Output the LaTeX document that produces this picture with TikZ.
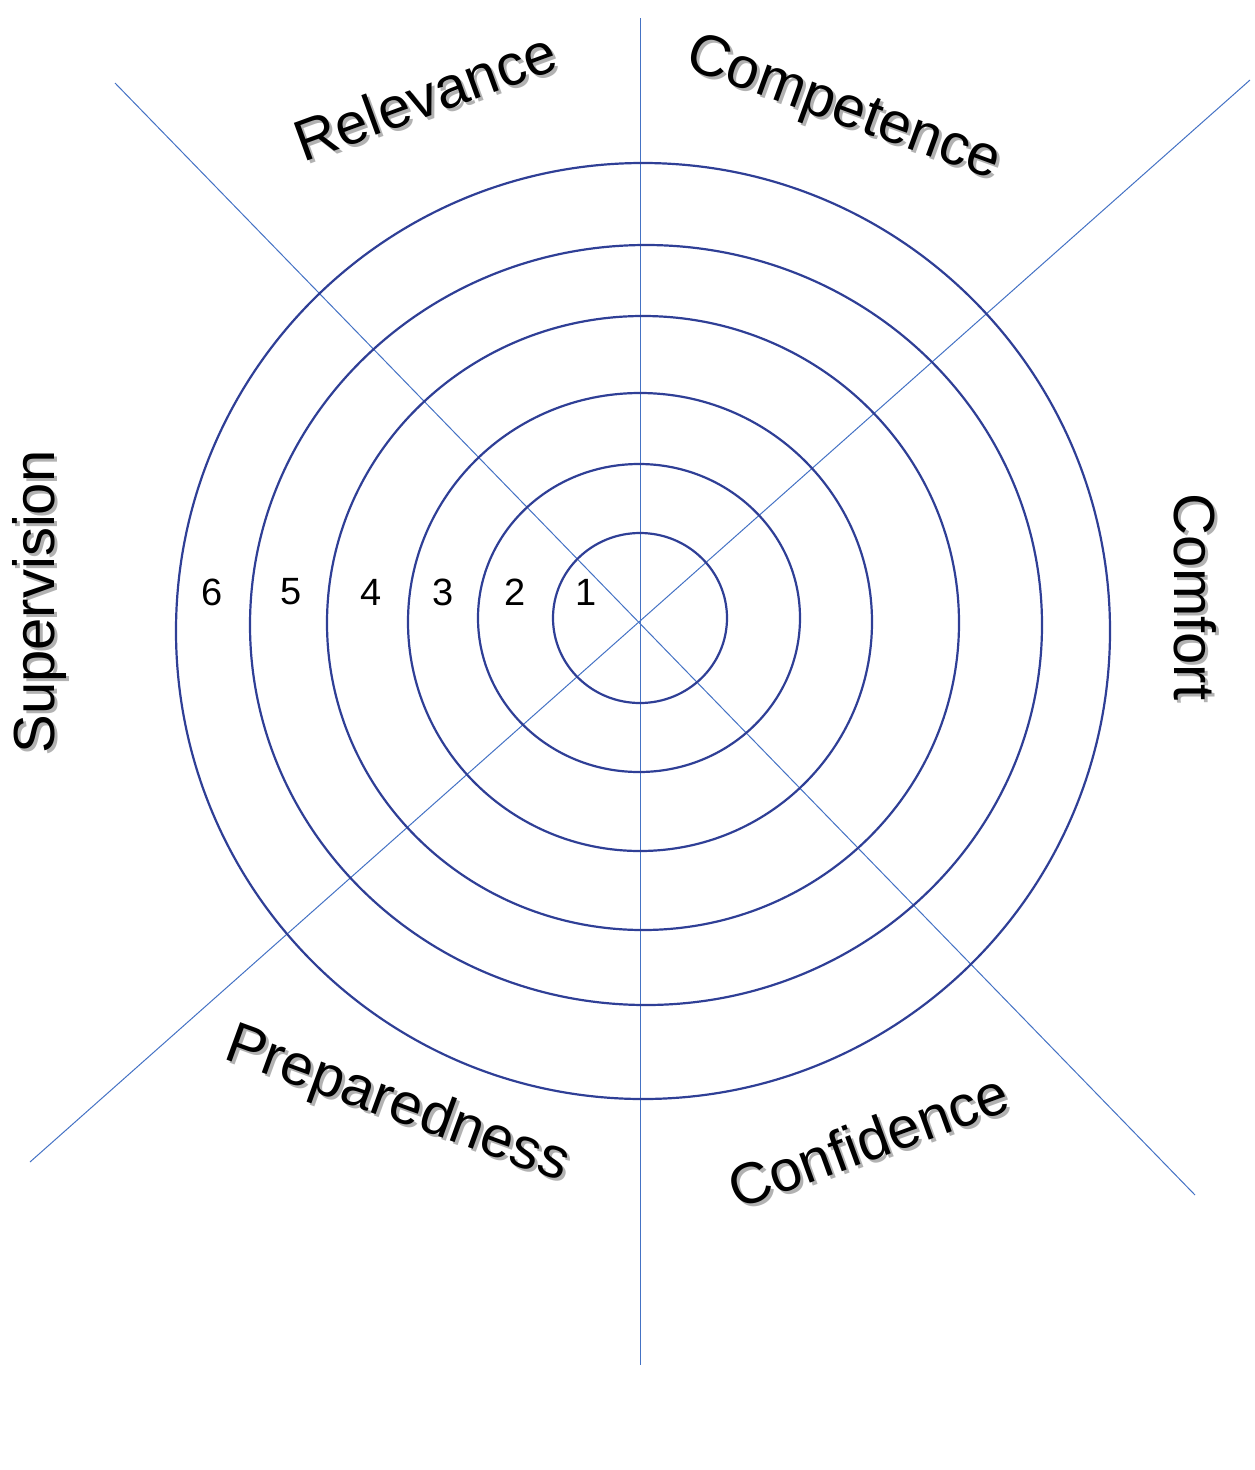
\documentclass[tikz,border=0pt]{standalone}
\usepackage{fontspec}
\setmainfont{Liberation Sans}
\begin{document}
\begin{tikzpicture}[x=1pt,y=-1pt,
  ring/.style={draw={rgb,255:red,47;green,63;blue,150},line width=2.2pt},
  axis/.style={draw={rgb,255:red,68;green,114;blue,196},line width=1pt},
  lab/.style={font=\fontsize{58}{58}\selectfont},
  num/.style={font=\fontsize{38}{38}\selectfont}]
\useasboundingbox (0,0) rectangle (1254,1470);
\coordinate (c) at (640,620);
\coordinate (t) at (640,18); \coordinate (b) at (640,1365);
\coordinate (d1) at (115,83); \coordinate (d2) at (1195,1195);
\coordinate (e1) at (30,1162); \coordinate (e2) at (1250,80);
\draw[axis] (t) -- (b);
\draw[axis] (d1) -- (d2);
\draw[axis] (e1) -- (e2);
\draw[ring] (640,618) ellipse [x radius=87,y radius=85];
\draw[ring] (639,618) ellipse [x radius=161,y radius=154];
\draw[ring] (640,622) ellipse [x radius=232,y radius=229];
\draw[ring] (643,623) ellipse [x radius=316,y radius=307];
\draw[ring] (646,625) ellipse [x radius=396,y radius=380];
\draw[ring] (643,631) ellipse [x radius=467,y radius=468];
\foreach \n/\x in {1/586,2/515,3/443,4/371,5/291,6/212}
  \node[num] (n\n) at (\x,592) {\n};
\foreach \name/\txt/\x/\y/\r in {rel/Relevance/425/96/20, com/Competence/843/110/-20,
  cmf/Comfort/1195/597/-90, sup/Supervision/40/602/90,
  pre/Preparedness/397/1106/-20, con/Confidence/868/1140/20}{
  \node[lab,text=black!30,rotate=\r] at (\x+3,\y+3) {\txt};
  \node[lab,rotate=\r] (\name) at (\x,\y) {\txt};
}
\end{tikzpicture}
\end{document}
